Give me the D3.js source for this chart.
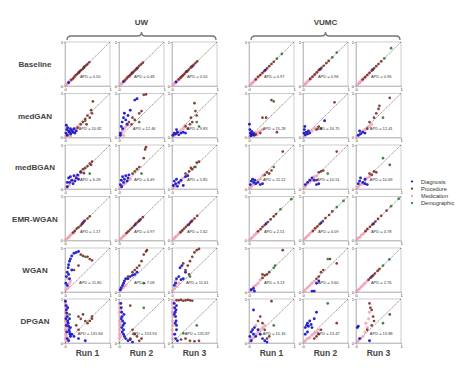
<!DOCTYPE html>
<html>
<head>
<meta charset="utf-8">
<script src="https://cdn.jsdelivr.net/npm/d3@7/dist/d3.min.js"></script>
<style>
  body { margin: 0; background: #fff; }
  svg { font-family: "Liberation Sans", Arial, sans-serif; }
</style>
</head>
<body>
<div id="chart"></div>
<script>
// Grid of real-vs-synthetic prevalence scatters (x = real, y = synthetic)

const models = ['Baseline', 'medGAN', 'medBGAN', 'EMR-WGAN', 'WGAN', 'DPGAN'];
const sites = ['UW', 'VUMC'];
const runs = ['Run 1', 'Run 2', 'Run 3'];
const categories = ['Diagnosis', 'Procedure', 'Medication', 'Demographic'];
const catKeys = ['D', 'P', 'M', 'G'];

// APD per model row, UW runs 1-3 then VUMC runs 1-3
const apdValues = [
  ['0.50', '0.48', '0.50', '0.97', '0.96', '0.96'],
  ['10.82', '12.46', '9.83', '15.28', '16.75', '12.41'],
  ['6.28', '6.49', '5.85', '11.12', '10.51', '10.69'],
  ['1.17', '0.97', '1.62', '2.51', '4.09', '4.78'],
  ['11.80', '7.08', '11.61', '3.13', '3.60', '2.76'],
  ['131.84', '153.93', '135.87', '15.16', '13.47', '13.88']
];

// points: [real, synthetic, category]
const uwBaseline1 = [[.02,.02,'M'],[.03,.04,'M'],[.05,.05,'M'],[.07,.06,'M'],[.09,.09,'M'],[.11,.12,'M'],[.13,.13,'M'],[.16,.15,'M'],[.19,.19,'M'],[.22,.22,'M'],
  [.08,.08,'D'],[.31,.31,'D'],[.42,.42,'D'],
  [.14,.14,'P'],[.18,.17,'P'],[.21,.21,'P'],[.24,.25,'P'],[.27,.27,'P'],[.3,.3,'P'],[.33,.34,'P'],[.36,.36,'P'],[.4,.39,'P'],[.43,.44,'P'],[.47,.47,'P'],[.5,.5,'P'],[.54,.54,'P']];
const uwBaseline2 = [[.02,.02,'M'],[.04,.04,'M'],[.06,.06,'M'],[.08,.08,'M'],[.1,.1,'M'],[.12,.11,'M'],[.15,.15,'M'],[.17,.18,'M'],[.2,.2,'M'],[.24,.23,'M'],
  [.1,.1,'D'],[.29,.29,'D'],[.4,.4,'D'],
  [.13,.13,'P'],[.17,.17,'P'],[.2,.21,'P'],[.23,.23,'P'],[.26,.26,'P'],[.29,.3,'P'],[.32,.32,'P'],[.35,.35,'P'],[.38,.38,'P'],[.42,.42,'P'],[.45,.46,'P'],[.49,.49,'P'],[.53,.53,'P']];
const uwBaseline3 = [[.02,.02,'M'],[.03,.03,'M'],[.05,.06,'M'],[.07,.07,'M'],[.1,.1,'M'],[.12,.12,'M'],[.14,.14,'M'],[.17,.16,'M'],[.2,.2,'M'],[.23,.23,'M'],
  [.09,.09,'D'],[.33,.33,'D'],[.44,.44,'D'],
  [.15,.15,'P'],[.19,.19,'P'],[.22,.22,'P'],[.25,.25,'P'],[.28,.28,'P'],[.31,.32,'P'],[.34,.34,'P'],[.37,.37,'P'],[.41,.41,'P'],[.45,.45,'P'],[.48,.48,'P'],[.52,.52,'P'],[.56,.56,'P']];
const vuBaseline1 = [[.02,.02,'M'],[.04,.04,'M'],[.06,.06,'M'],[.08,.08,'M'],[.1,.1,'M'],[.13,.13,'M'],[.16,.16,'M'],[.2,.2,'M'],[.24,.24,'M'],[.28,.28,'M'],
  [.36,.36,'D'],
  [.15,.15,'P'],[.2,.21,'P'],[.25,.25,'P'],[.3,.3,'P'],[.34,.34,'P'],[.4,.4,'P'],[.45,.45,'P'],[.5,.5,'P'],[.55,.55,'P'],
  [.62,.62,'G'],[.73,.73,'G']];
const vuBaseline2 = [[.02,.02,'M'],[.04,.04,'M'],[.06,.06,'M'],[.09,.09,'M'],[.12,.12,'M'],[.15,.15,'M'],[.18,.18,'M'],[.22,.22,'M'],[.26,.26,'M'],[.3,.3,'M'],
  [.38,.38,'D'],
  [.16,.16,'P'],[.21,.21,'P'],[.26,.26,'P'],[.31,.31,'P'],[.35,.36,'P'],[.41,.41,'P'],[.46,.46,'P'],[.52,.52,'P'],[.57,.57,'P'],
  [.65,.65,'G'],[.75,.76,'G']];
const vuBaseline3 = [[.02,.02,'M'],[.04,.04,'M'],[.07,.07,'M'],[.09,.09,'M'],[.12,.12,'M'],[.14,.14,'M'],[.18,.18,'M'],[.21,.21,'M'],[.25,.25,'M'],[.29,.29,'M'],
  [.37,.37,'D'],
  [.15,.15,'P'],[.2,.2,'P'],[.25,.25,'P'],[.3,.3,'P'],[.35,.35,'P'],[.4,.4,'P'],[.45,.45,'P'],[.5,.5,'P'],[.56,.56,'P'],
  [.63,.63,'G'],[.78,.86,'G']];

const uwMedgan1 = [[.02,.03,'M'],[.05,.08,'M'],[.08,.05,'M'],[.1,.1,'M'],[.14,.12,'M'],[.18,.18,'M'],[.2,.15,'M'],[.25,.2,'M'],[.3,.25,'M'],[.12,.03,'M'],
  [.02,.1,'D'],[.04,.18,'D'],[.05,.05,'D'],[.06,.22,'D'],[.08,.15,'D'],[.1,.12,'D'],[.12,.2,'D'],[.13,.08,'D'],[.15,.16,'D'],[.18,.12,'D'],[.2,.2,'D'],[.22,.1,'D'],[.03,.28,'D'],[.25,.15,'D'],
  [.28,.22,'P'],[.35,.3,'P'],[.4,.35,'P'],[.45,.42,'P'],[.5,.5,'P'],[.55,.45,'P'],[.6,.55,'P'],[.58,.62,'P'],[.62,.82,'P'],[.48,.3,'P'],
  [.45,.38,'G']];
const uwMedgan2 = [[.02,.04,'M'],[.05,.1,'M'],[.08,.15,'M'],[.12,.2,'M'],[.15,.25,'M'],[.2,.28,'M'],[.1,.05,'M'],
  [.03,.1,'D'],[.05,.25,'D'],[.07,.35,'D'],[.1,.45,'D'],[.12,.55,'D'],[.15,.4,'D'],[.08,.2,'D'],[.2,.5,'D'],[.25,.62,'D'],[.35,.85,'D'],[.4,.88,'D'],[.03,.05,'D'],[.18,.3,'D'],
  [.22,.35,'P'],[.3,.45,'P'],[.35,.4,'P'],[.45,.55,'P'],[.55,.97,'P'],[.6,.98,'P'],[.5,.6,'P'],[.28,.3,'P'],
  [.45,.35,'G']];
const uwMedgan3 = [[.03,.03,'M'],[.06,.06,'M'],[.1,.1,'M'],[.15,.12,'M'],[.2,.15,'M'],[.25,.2,'M'],[.3,.28,'M'],
  [.02,.05,'D'],[.05,.1,'D'],[.08,.08,'D'],[.12,.12,'D'],[.15,.06,'D'],[.2,.1,'D'],[.25,.12,'D'],[.3,.1,'D'],[.1,.18,'D'],
  [.35,.2,'P'],[.4,.3,'P'],[.45,.35,'P'],[.5,.78,'P'],[.52,.6,'P'],[.55,.5,'P'],[.3,.25,'P'],[.42,.45,'P'],
  [.55,.35,'G'],[.6,.25,'G']];
const vuMedgan1 = [[.02,.02,'M'],[.05,.05,'M'],[.1,.08,'M'],[.15,.1,'M'],[.2,.12,'M'],[.25,.15,'M'],[.08,.03,'M'],[.18,.06,'M'],[.3,.18,'M'],
  [.01,.3,'D'],[.02,.18,'D'],[.03,.1,'D'],[.05,.08,'D'],[.06,.14,'D'],[.08,.06,'D'],[.1,.1,'D'],[.04,.04,'D'],[.12,.05,'D'],
  [.3,.45,'P'],[.38,.45,'P'],[.5,.85,'P'],[.25,.1,'P'],[.15,.07,'P'],[.62,.12,'P'],
  [.55,.82,'G']];
const vuMedgan2 = [[.02,.02,'M'],[.05,.05,'M'],[.1,.1,'M'],[.15,.12,'M'],[.2,.15,'M'],[.25,.2,'M'],[.3,.22,'M'],
  [.02,.1,'D'],[.03,.18,'D'],[.05,.06,'D'],[.07,.12,'D'],[.1,.08,'D'],[.12,.15,'D'],[.15,.1,'D'],[.04,.25,'D'],[.48,.38,'D'],
  [.3,.18,'P'],[.35,.25,'P'],[.7,.8,'P'],[.4,.2,'P']];
const vuMedgan3 = [[.02,.02,'M'],[.05,.04,'M'],[.1,.1,'M'],[.15,.15,'M'],[.2,.18,'M'],[.25,.22,'M'],[.3,.25,'M'],[.35,.3,'M'],
  [.05,.05,'D'],[.1,.08,'D'],[.15,.12,'D'],[.08,.15,'D'],[.2,.1,'D'],
  [.4,.45,'P'],[.45,.55,'P'],[.5,.65,'P'],[.52,.72,'P'],[.75,.9,'P'],[.3,.35,'P'],[.25,.2,'P'],
  [.6,.45,'G']];

const uwMedbgan1 = [[.02,.03,'M'],[.06,.06,'M'],[.1,.09,'M'],[.14,.16,'M'],[.18,.2,'M'],[.22,.2,'M'],[.26,.28,'M'],[.3,.3,'M'],
  [.05,.05,'D'],[.08,.25,'D'],[.1,.15,'D'],[.12,.28,'D'],[.15,.2,'D'],[.18,.12,'D'],[.2,.3,'D'],[.22,.18,'D'],[.25,.25,'D'],[.28,.32,'D'],[.3,.22,'D'],[.05,.15,'D'],[.35,.38,'D'],
  [.35,.4,'P'],[.4,.45,'P'],[.45,.48,'P'],[.5,.52,'P'],[.55,.58,'P'],[.6,.62,'P'],[.58,.55,'P'],[.42,.36,'P'],
  [.55,.35,'G']];
const uwMedbgan2 = [[.02,.02,'M'],[.05,.06,'M'],[.1,.1,'M'],[.15,.14,'M'],[.2,.2,'M'],[.25,.22,'M'],
  [.03,.1,'D'],[.05,.2,'D'],[.08,.28,'D'],[.1,.15,'D'],[.12,.22,'D'],[.15,.3,'D'],[.18,.18,'D'],[.2,.25,'D'],[.06,.05,'D'],[.22,.32,'D'],
  [.3,.35,'P'],[.35,.4,'P'],[.4,.45,'P'],[.55,.7,'P'],[.58,.9,'P'],[.6,.95,'P'],[.45,.5,'P'],
  [.5,.35,'G']];
const uwMedbgan3 = [[.02,.02,'M'],[.05,.05,'M'],[.1,.1,'M'],[.15,.12,'M'],[.2,.18,'M'],[.25,.25,'M'],
  [.03,.08,'D'],[.05,.18,'D'],[.08,.12,'D'],[.1,.22,'D'],[.12,.06,'D'],[.15,.15,'D'],[.2,.2,'D'],[.25,.08,'D'],[.3,.28,'D'],[.35,.3,'D'],
  [.3,.35,'P'],[.38,.4,'P'],[.45,.45,'P'],[.5,.5,'P'],[.55,.6,'P'],[.6,.62,'P'],[.42,.48,'P'],
  [.52,.5,'G']];
const vuMedbgan1 = [[.02,.02,'M'],[.05,.05,'M'],[.1,.1,'M'],[.15,.15,'M'],[.2,.2,'M'],[.25,.22,'M'],[.3,.3,'M'],
  [.03,.1,'D'],[.05,.18,'D'],[.08,.22,'D'],[.1,.15,'D'],[.13,.2,'D'],[.15,.12,'D'],[.2,.15,'D'],[.25,.1,'D'],[.3,.12,'D'],
  [.35,.32,'P'],[.4,.38,'P'],[.45,.35,'P'],[.5,.42,'P'],[.75,.85,'P'],
  [.55,.5,'G']];
const vuMedbgan2 = [[.02,.02,'M'],[.05,.06,'M'],[.1,.12,'M'],[.15,.16,'M'],[.2,.2,'M'],[.25,.28,'M'],[.3,.3,'M'],
  [.05,.1,'D'],[.1,.15,'D'],[.15,.2,'D'],[.2,.25,'D'],[.25,.2,'D'],[.3,.1,'D'],[.35,.12,'D'],
  [.35,.38,'P'],[.4,.4,'P'],[.45,.42,'P'],[.75,.85,'P'],[.3,.2,'P'],
  [.55,.35,'G']];
const vuMedbgan3 = [[.02,.02,'M'],[.05,.05,'M'],[.1,.1,'M'],[.15,.12,'M'],[.2,.18,'M'],[.25,.25,'M'],[.3,.28,'M'],
  [.05,.12,'D'],[.08,.18,'D'],[.1,.25,'D'],[.15,.15,'D'],[.2,.12,'D'],[.2,.22,'D'],[.25,.1,'D'],
  [.3,.35,'P'],[.35,.32,'P'],[.4,.4,'P'],[.45,.38,'P'],[.75,.55,'P'],
  [.6,.7,'G']];

const uwEmr1 = [[.02,.02,'M'],[.05,.05,'M'],[.08,.07,'M'],[.1,.1,'M'],[.13,.13,'M'],[.16,.16,'M'],[.2,.19,'M'],
  [.38,.38,'D'],[.42,.43,'D'],
  [.18,.18,'P'],[.22,.22,'P'],[.26,.27,'P'],[.3,.3,'P'],[.35,.34,'P'],[.4,.4,'P'],[.44,.45,'P'],[.5,.5,'P'],[.55,.55,'P']];
const uwEmr2 = [[.02,.02,'M'],[.04,.04,'M'],[.07,.07,'M'],[.1,.1,'M'],[.12,.12,'M'],[.15,.15,'M'],[.19,.19,'M'],
  [.36,.36,'D'],[.45,.45,'D'],
  [.17,.17,'P'],[.21,.21,'P'],[.25,.25,'P'],[.29,.29,'P'],[.33,.33,'P'],[.38,.39,'P'],[.42,.42,'P'],[.48,.48,'P'],[.53,.53,'P']];
const uwEmr3 = [[.02,.02,'M'],[.05,.05,'M'],[.07,.08,'M'],[.1,.1,'M'],[.14,.14,'M'],[.17,.17,'M'],[.21,.21,'M'],
  [.37,.36,'D'],[.43,.43,'D'],
  [.19,.19,'P'],[.23,.23,'P'],[.27,.27,'P'],[.31,.31,'P'],[.35,.35,'P'],[.4,.4,'P'],[.45,.45,'P'],[.5,.5,'P'],[.56,.56,'P']];
const vuEmr1 = [[.02,.02,'M'],[.05,.05,'M'],[.08,.08,'M'],[.12,.12,'M'],[.16,.16,'M'],[.2,.2,'M'],[.25,.25,'M'],
  [.38,.38,'D'],
  [.2,.21,'P'],[.26,.26,'P'],[.3,.31,'P'],[.35,.35,'P'],[.42,.42,'P'],[.48,.48,'P'],[.55,.55,'P'],[.6,.6,'P'],
  [.7,.71,'G'],[.94,.94,'G']];
const vuEmr2 = [[.02,.02,'M'],[.05,.05,'M'],[.08,.09,'M'],[.12,.12,'M'],[.16,.17,'M'],[.21,.2,'M'],[.26,.25,'M'],
  [.4,.4,'D'],
  [.22,.22,'P'],[.27,.28,'P'],[.32,.32,'P'],[.37,.37,'P'],[.44,.44,'P'],[.5,.51,'P'],[.58,.58,'P'],[.65,.66,'P'],
  [.75,.76,'G'],[.9,.9,'G']];
const vuEmr3 = [[.02,.02,'M'],[.05,.06,'M'],[.09,.08,'M'],[.12,.13,'M'],[.17,.16,'M'],[.21,.22,'M'],[.26,.26,'M'],
  [.39,.38,'D'],
  [.21,.21,'P'],[.25,.26,'P'],[.31,.31,'P'],[.36,.36,'P'],[.43,.43,'P'],[.49,.49,'P'],[.56,.56,'P'],[.68,.68,'P'],
  [.78,.78,'G'],[.95,.95,'G']];

const uwWgan1 = [[.02,.05,'M'],[.05,.08,'M'],[.08,.12,'M'],[.1,.2,'M'],[.12,.25,'M'],[.06,.3,'M'],
  [.02,.2,'D'],[.03,.35,'D'],[.05,.45,'D'],[.07,.55,'D'],[.08,.62,'D'],[.1,.7,'D'],[.12,.75,'D'],[.15,.82,'D'],[.2,.88,'D'],[.25,.9,'D'],[.3,.92,'D'],[.05,.15,'D'],[.1,.3,'D'],[.08,.4,'D'],[.15,.5,'D'],
  [.35,.85,'P'],[.4,.82,'P'],[.5,.8,'P'],[.55,.75,'P'],[.6,.72,'P'],[.2,.5,'P'],[.3,.6,'P'],
  [.45,.8,'G']];
const uwWgan2 = [[.02,.03,'M'],[.05,.06,'M'],[.1,.1,'M'],[.15,.15,'M'],
  [.05,.1,'D'],[.08,.15,'D'],[.1,.2,'D'],[.12,.25,'D'],[.15,.3,'D'],[.2,.3,'D'],[.25,.35,'D'],[.3,.38,'D'],[.35,.4,'D'],[.4,.45,'D'],[.03,.05,'D'],
  [.2,.35,'P'],[.3,.45,'P'],[.4,.55,'P'],[.45,.6,'P'],[.5,.7,'P'],[.55,.85,'P'],[.6,.92,'P'],[.62,.95,'P'],[.35,.5,'P'],
  [.55,.2,'G']];
const uwWgan3 = [[.02,.04,'M'],[.05,.08,'M'],[.1,.12,'M'],[.15,.2,'M'],[.08,.25,'M'],
  [.05,.15,'D'],[.08,.2,'D'],[.1,.3,'D'],[.15,.35,'D'],[.2,.28,'D'],[.25,.3,'D'],[.18,.55,'D'],[.22,.6,'D'],[.3,.45,'D'],
  [.3,.5,'P'],[.35,.6,'P'],[.4,.7,'P'],[.45,.8,'P'],[.5,.9,'P'],[.55,.95,'P'],[.6,.98,'P'],[.25,.65,'P'],[.38,.4,'P'],
  [.4,.35,'G']];
const vuWgan1 = [[.02,.02,'M'],[.05,.06,'M'],[.1,.12,'M'],[.15,.15,'M'],[.2,.2,'M'],[.25,.28,'M'],
  [.05,.05,'D'],[.1,.08,'D'],[.12,.02,'D'],
  [.3,.32,'P'],[.35,.38,'P'],[.4,.4,'P'],[.45,.45,'P'],[.3,.4,'P'],[.75,.95,'P'],
  [.55,.55,'G'],[.58,.6,'G']];
const vuWgan2 = [[.02,.02,'M'],[.05,.05,'M'],[.1,.1,'M'],[.15,.15,'M'],[.2,.2,'M'],[.25,.25,'M'],
  [.2,.02,'D'],[.25,.02,'D'],[.3,.2,'D'],[.35,.25,'D'],
  [.3,.3,'P'],[.35,.35,'P'],[.4,.45,'P'],[.45,.5,'P'],[.75,.65,'P'],[.6,.75,'P'],
  [.55,.75,'G']];
const vuWgan3 = [[.02,.02,'M'],[.05,.05,'M'],[.08,.08,'M'],[.12,.12,'M'],[.16,.16,'M'],[.2,.2,'M'],[.25,.25,'M'],
  [.35,.35,'D'],
  [.28,.28,'P'],[.32,.32,'P'],[.38,.38,'P'],[.42,.42,'P'],[.48,.48,'P'],[.52,.52,'P'],
  [.6,.6,'G'],[.74,.74,'G']];

const uwDpgan1 = [[.01,.1,'M'],[.01,.3,'M'],[.01,.5,'M'],[.01,.7,'M'],[.01,.9,'M'],[.02,.2,'M'],[.02,.4,'M'],[.02,.6,'M'],[.02,.8,'M'],[.03,.05,'M'],[.03,.15,'M'],[.03,.35,'M'],[.03,.65,'M'],[.04,.45,'M'],[.04,.85,'M'],
  [.01,.95,'D'],[.02,.85,'D'],[.03,.75,'D'],[.04,.68,'D'],[.05,.6,'D'],[.06,.5,'D'],[.07,.45,'D'],[.08,.38,'D'],[.09,.3,'D'],[.1,.25,'D'],[.11,.2,'D'],[.12,.15,'D'],[.05,.1,'D'],[.08,.05,'D'],[.03,.4,'D'],[.06,.8,'D'],[.1,.55,'D'],[.12,.35,'D'],[.15,.2,'D'],[.2,.15,'D'],[.3,.1,'D'],[.45,.05,'D'],[.02,.55,'D'],[.04,.25,'D'],
  [.3,.6,'P'],[.35,.55,'P'],[.4,.65,'P'],[.45,.5,'P'],[.5,.45,'P'],[.55,.5,'P'],[.6,.55,'P'],[.6,.6,'P'],[.25,.4,'P'],[.3,.3,'P'],
  [.1,.65,'G']];
const uwDpgan2 = [[.01,.1,'M'],[.01,.3,'M'],[.01,.5,'M'],[.01,.7,'M'],[.01,.9,'M'],[.02,.2,'M'],[.02,.4,'M'],[.02,.6,'M'],[.02,.8,'M'],[.03,.15,'M'],[.03,.45,'M'],[.03,.75,'M'],
  [.04,.9,'D'],[.05,.8,'D'],[.06,.7,'D'],[.07,.6,'D'],[.08,.5,'D'],[.09,.4,'D'],[.1,.3,'D'],[.1,.2,'D'],[.12,.15,'D'],[.15,.1,'D'],[.2,.05,'D'],[.25,.08,'D'],[.3,.02,'D'],[.05,.55,'D'],[.07,.25,'D'],[.06,.35,'D'],[.11,.65,'D'],[.12,.45,'D'],
  [.25,.85,'P'],[.3,.3,'P'],[.35,.2,'P'],[.4,.15,'P'],[.25,.1,'P'],[.45,.05,'P'],[.5,.1,'P'],
  [.55,.8,'G']];
const uwDpgan3 = [[.01,.1,'M'],[.01,.3,'M'],[.01,.5,'M'],[.01,.7,'M'],[.01,.9,'M'],[.02,.2,'M'],[.02,.4,'M'],[.02,.6,'M'],[.02,.8,'M'],[.03,.95,'M'],
  [.05,.9,'D'],[.06,.8,'D'],[.07,.7,'D'],[.08,.6,'D'],[.09,.5,'D'],[.1,.4,'D'],[.1,.3,'D'],[.06,.2,'D'],[.08,.1,'D'],[.07,.45,'D'],[.05,.65,'D'],[.09,.75,'D'],[.1,.85,'D'],[.12,.05,'D'],
  [.1,.97,'P'],[.15,.97,'P'],[.2,.98,'P'],[.25,.96,'P'],[.3,.97,'P'],[.35,.98,'P'],[.4,.97,'P'],[.45,.96,'P'],[.3,.1,'P'],[.4,.05,'P'],[.5,.04,'P'],[.6,.05,'P'],[.2,.08,'P'],
  [.55,.4,'G'],[.25,.22,'G']];
const vuDpgan1 = [[.02,.02,'M'],[.05,.1,'M'],[.1,.12,'M'],[.15,.2,'M'],[.2,.25,'M'],[.25,.3,'M'],[.3,.35,'M'],[.35,.4,'M'],[.15,.4,'M'],
  [.02,.15,'D'],[.05,.25,'D'],[.08,.3,'D'],[.1,.2,'D'],[.12,.35,'D'],[.15,.15,'D'],[.2,.3,'D'],[.25,.2,'D'],[.3,.1,'D'],[.35,.05,'D'],[.05,.05,'D'],[.4,.02,'D'],[.1,.75,'D'],
  [.2,.5,'P'],[.25,.6,'P'],[.3,.45,'P'],[.35,.3,'P'],[.5,.95,'P'],[.4,.1,'P'],[.45,.15,'P'],
  [.55,.4,'G']];
const vuDpgan2 = [[.02,.02,'M'],[.05,.05,'M'],[.1,.1,'M'],[.15,.12,'M'],[.2,.18,'M'],[.25,.22,'M'],[.3,.25,'M'],[.35,.3,'M'],
  [.05,.35,'D'],[.08,.4,'D'],[.1,.45,'D'],[.12,.38,'D'],[.15,.5,'D'],[.18,.42,'D'],[.2,.35,'D'],[.25,.55,'D'],[.3,.7,'D'],[.1,.25,'D'],[.05,.2,'D'],
  [.3,.15,'P'],[.35,.2,'P'],[.4,.3,'P'],[.75,.45,'P'],[.25,.1,'P'],
  [.55,.9,'G']];
const vuDpgan3 = [[.02,.02,'M'],[.05,.05,'M'],[.1,.1,'M'],[.15,.15,'M'],[.2,.25,'M'],[.25,.35,'M'],[.28,.55,'M'],[.22,.45,'M'],[.3,.7,'M'],
  [.03,.35,'D'],[.05,.38,'D'],[.08,.1,'D'],[.3,.05,'D'],
  [.3,.9,'P'],[.32,.8,'P'],[.35,.75,'P'],[.38,.6,'P'],[.4,.5,'P'],[.35,.4,'P'],[.75,.65,'P'],[.25,.3,'P'],
  [.6,.45,'G']];

// rows = models, columns = UW runs 1-3 then VUMC runs 1-3
const panelData = [
  [uwBaseline1, uwBaseline2, uwBaseline3, vuBaseline1, vuBaseline2, vuBaseline3],
  [uwMedgan1, uwMedgan2, uwMedgan3, vuMedgan1, vuMedgan2, vuMedgan3],
  [uwMedbgan1, uwMedbgan2, uwMedbgan3, vuMedbgan1, vuMedbgan2, vuMedbgan3],
  [uwEmr1, uwEmr2, uwEmr3, vuEmr1, vuEmr2, vuEmr3],
  [uwWgan1, uwWgan2, uwWgan3, vuWgan1, vuWgan2, vuWgan3],
  [uwDpgan1, uwDpgan2, uwDpgan3, vuDpgan1, vuDpgan2, vuDpgan3]
];

const W = 474, H = 373;
const colLeft = [65, 119, 172, 249, 303, 356];
const rowTop = [42, 93.5, 145, 196.5, 248, 299];
const pw = 45, ph = 44;

const color = { D: '#1010c8', P: '#7a2c22', M: '#f2a0b4', G: '#2d7a2d' };
const radius = { D: 1.45, P: 1.35, M: 1.6, G: 1.35 };
const drawOrder = ['M', 'D', 'P', 'G'];

const svg = d3.select('#chart').append('svg')
  .attr('width', W).attr('height', H);

// site titles + braces
sites.forEach((s, si) => {
  const x0 = colLeft[si * 3] + 2, x1 = colLeft[si * 3 + 2] + pw - 1;
  const mid = (x0 + x1) / 2;
  svg.append('text')
    .attr('x', mid).attr('y', 25)
    .attr('text-anchor', 'middle')
    .attr('font-size', 8).attr('font-weight', 'bold')
    .attr('fill', '#444')
    .text(s);
  const yb = 36;
  svg.append('path')
    .attr('d', `M${x0},${yb + 4} Q${x0},${yb} ${x0 + 4},${yb} L${mid - 4},${yb} Q${mid},${yb} ${mid},${yb - 4} Q${mid},${yb} ${mid + 4},${yb} L${x1 - 4},${yb} Q${x1},${yb} ${x1},${yb + 4}`)
    .attr('fill', 'none').attr('stroke', '#777').attr('stroke-width', 1.4);
});

// row labels
models.forEach((m, ri) => {
  svg.append('text')
    .attr('x', 35).attr('y', rowTop[ri] + ph / 2 + 3)
    .attr('text-anchor', 'middle')
    .attr('font-size', 8).attr('font-weight', 'bold')
    .attr('fill', '#444')
    .text(m);
});

// run labels
colLeft.forEach((cx, ci) => {
  svg.append('text')
    .attr('x', cx + pw / 2).attr('y', 356)
    .attr('text-anchor', 'middle')
    .attr('font-size', 8.5).attr('font-weight', 'bold')
    .attr('fill', '#444')
    .text(runs[ci % 3]);
});

// panels
panelData.forEach((row, ri) => {
  row.forEach((pts, ci) => {
    const left = colLeft[ci], top = rowTop[ri];
    const x = d3.scaleLinear().domain([0, 1]).range([left, left + pw]);
    const y = d3.scaleLinear().domain([0, 1]).range([top + ph, top]);
    const g = svg.append('g');

    g.append('rect')
      .attr('x', left).attr('y', top).attr('width', pw).attr('height', ph)
      .attr('fill', '#fff').attr('stroke', '#aaa').attr('stroke-width', 0.6);

    const fmt = d3.format('d');
    const xAxis = d3.axisBottom(x).tickValues([0, 1]).tickFormat(fmt).tickSize(1.5).tickPadding(0.6);
    const yAxis = d3.axisLeft(y).tickValues([0, 1]).tickFormat(fmt).tickSize(1.5).tickPadding(0.6);
    [g.append('g').attr('transform', `translate(0,${top + ph})`).call(xAxis),
     g.append('g').attr('transform', `translate(${left},0)`).call(yAxis)].forEach(a => {
      a.select('.domain').attr('stroke', '#aaa').attr('stroke-width', 0.6);
      a.selectAll('line').attr('stroke', '#888').attr('stroke-width', 0.4);
      a.selectAll('text').attr('font-size', 4).attr('fill', '#333');
    });

    g.append('line')
      .attr('x1', x(0)).attr('y1', y(0)).attr('x2', x(1)).attr('y2', y(1))
      .attr('stroke', '#222').attr('stroke-width', 0.5)
      .attr('stroke-dasharray', '1.4,0.8');

    drawOrder.forEach(k => {
      g.selectAll(null)
        .data(pts.filter(p => p[2] === k))
        .enter().append('circle')
        .attr('cx', p => x(p[0])).attr('cy', p => y(p[1]))
        .attr('r', radius[k])
        .attr('fill', color[k])
        .attr('fill-opacity', k === 'M' ? 0.85 : 0.9);
    });

    g.append('text')
      .attr('x', left + pw * 0.56).attr('y', top + ph - 8)
      .attr('text-anchor', 'middle')
      .attr('font-size', 4).attr('fill', '#333')
      .text('APD = ' + apdValues[ri][ci]);
  });
});

// legend
const legend = svg.append('g');
categories.forEach((c, i) => {
  const yy = 181.5 + i * 7.2;
  legend.append('circle')
    .attr('cx', 412).attr('cy', yy).attr('r', 1.1)
    .attr('fill', color[catKeys[i]]);
  legend.append('text')
    .attr('x', 421).attr('y', yy + 2)
    .attr('font-size', 5.6).attr('fill', '#333')
    .text(c);
});
</script>
</body>
</html>
